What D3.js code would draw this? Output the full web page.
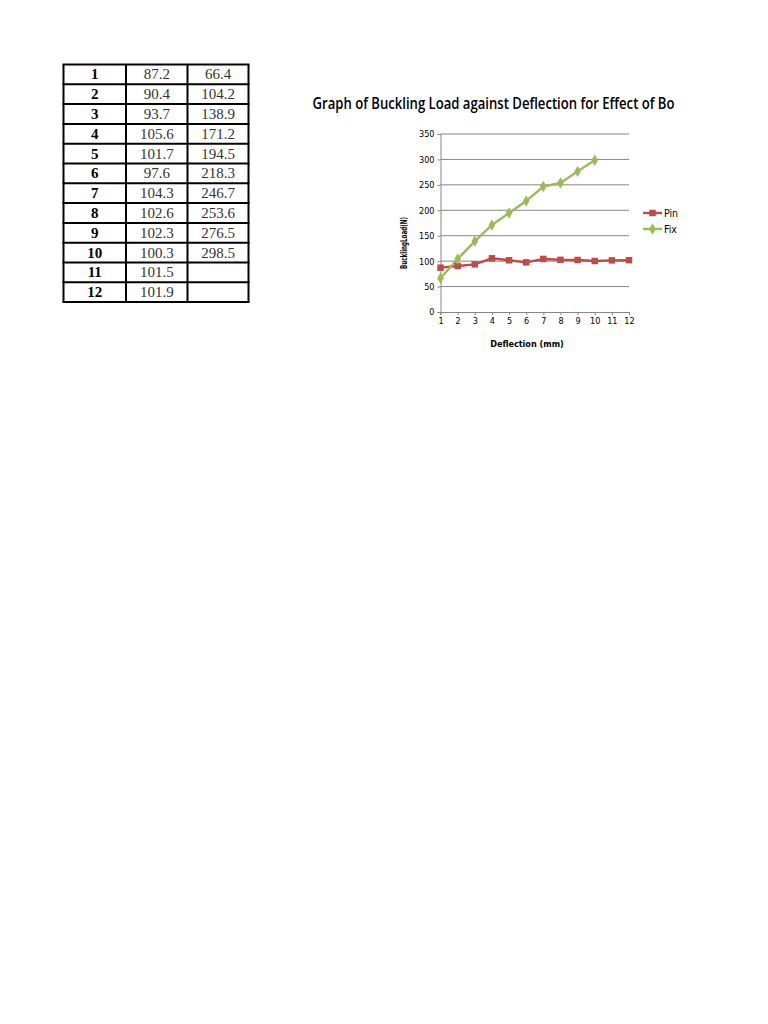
<!DOCTYPE html>
<html>
<head>
<meta charset="utf-8">
<script src="https://cdn.jsdelivr.net/npm/d3@7"></script>
<style>
  body { margin: 0; background: #fff; }
  svg { display: block; }
</style>
</head>
<body>
<div id="page"></div>
<script>

// data
var deflection = [1, 2, 3, 4, 5, 6, 7, 8, 9, 10, 11, 12];
var pinLoad = [87.2, 90.4, 93.7, 105.6, 101.7, 97.6, 104.3, 102.6, 102.3, 100.3, 101.5, 101.9];
var fixLoad = [66.4, 104.2, 138.9, 171.2, 194.5, 218.3, 246.7, 253.6, 276.5, 298.5];
var pinLabel = "Pin";
var fixLabel = "Fix";
var yTicks = [0, 50, 100, 150, 200, 250, 300, 350];
var titleText = "Graph of Buckling Load against Deflection for Effect of Bo";

var svg = d3.select("#page").append("svg")
    .attr("width", 768)
    .attr("height", 1024);

// ---- the table on the left
var colX = [63.5, 126, 187.5, 248.5];
var tableTop = 64.5, rowH = 19.8;

var table = svg.append("g").attr("class", "data-table");

var rows = deflection.map(function(d, i) {
    return [String(d),
            pinLoad[i] != null ? pinLoad[i].toFixed(1) : "",
            fixLoad[i] != null ? fixLoad[i].toFixed(1) : ""];
});

rows.forEach(function(r, i) {
    var y = tableTop + i * rowH;
    r.forEach(function(t, j) {
        table.append("text")
            .attr("x", (colX[j] + colX[j + 1]) / 2)
            .attr("y", y + rowH / 2 + 5)
            .attr("text-anchor", "middle")
            .style("font-family", "Liberation Serif, DejaVu Serif, serif")
            .style("font-size", "15px")
            .style("font-weight", j === 0 ? "bold" : "normal")
            .style("fill", j === 0 ? "#000" : "#333")
            .text(t);
    });
});

d3.range(13).forEach(function(i) {
    table.append("line")
        .attr("x1", colX[0] - 1).attr("x2", colX[3] + 1)
        .attr("y1", tableTop + i * rowH).attr("y2", tableTop + i * rowH)
        .attr("stroke", "#000").attr("stroke-width", 2);
});
colX.forEach(function(x) {
    table.append("line")
        .attr("x1", x).attr("x2", x)
        .attr("y1", tableTop).attr("y2", tableTop + 12 * rowH)
        .attr("stroke", "#000").attr("stroke-width", 2);
});

// ---- the chart
var chart = svg.append("g").attr("class", "chart");

var x = d3.scaleLinear().domain([1, 12]).range([440.5, 629]);
var y = d3.scaleLinear().domain([0, 350]).range([312, 134]);

var smallFont = "Liberation Sans Narrow, DejaVu Sans Condensed, Liberation Sans, sans-serif";

// title text is already cut short, as in the source picture
chart.append("text")
    .attr("x", 312.5)
    .attr("y", 109)
    .attr("textLength", 362)
    .attr("lengthAdjust", "spacingAndGlyphs")
    .style("font-family", "Open Sans, Liberation Sans, sans-serif")
    .style("font-size", "17px")
    .style("font-weight", "600")
    .style("fill", "#000")
    .text(titleText);

// gridlines
chart.append("g").selectAll("line")
    .data(yTicks.slice(1))
    .join("line")
    .attr("x1", x(1)).attr("x2", x(12))
    .attr("y1", function(d) { return y(d); })
    .attr("y2", function(d) { return y(d); })
    .attr("stroke", "#868686").attr("stroke-width", 1);

var yAxis = chart.append("g")
    .attr("transform", "translate(" + x(1) + ",0)")
    .call(d3.axisLeft(y).tickValues(yTicks).tickSize(3).tickPadding(3));
var xAxis = chart.append("g")
    .attr("transform", "translate(0," + y(0) + ")")
    .call(d3.axisBottom(x).tickValues(deflection).tickSize(3).tickPadding(3));

[yAxis, xAxis].forEach(function(a) {
    a.select(".domain").attr("stroke", "#868686");
    a.selectAll(".tick line").attr("stroke", "#868686");
    a.selectAll(".tick text")
        .style("font-family", smallFont)
        .style("font-size", "9px")
        .attr("fill", "#000");
});

chart.append("text")
    .attr("x", 527).attr("y", 347)
    .attr("text-anchor", "middle")
    .style("font-family", smallFont)
    .style("font-size", "9px")
    .style("font-weight", "bold")
    .text("Deflection (mm)");

chart.append("text")
    .attr("transform", "translate(407,243) rotate(-90)")
    .attr("text-anchor", "middle")
    .attr("textLength", 52)
    .attr("lengthAdjust", "spacingAndGlyphs")
    .style("font-family", smallFont)
    .style("font-size", "9px")
    .style("font-weight", "bold")
    .text("BucklingLoad(N)");

// series
var red = "#BE4B48", green = "#9BBB59";
var line = d3.line()
    .x(function(d) { return x(d[0]); })
    .y(function(d) { return y(d[1]); });

var pinPts = deflection.map(function(d, i) { return [d, pinLoad[i]]; });
var fixPts = fixLoad.map(function(v, i) { return [deflection[i], v]; });

chart.append("path").datum(pinPts)
    .attr("d", line).attr("fill", "none")
    .attr("stroke", red).attr("stroke-width", 2.4);
chart.append("path").datum(fixPts)
    .attr("d", line).attr("fill", "none")
    .attr("stroke", green).attr("stroke-width", 2.4);

var squareSym = d3.symbol().type(d3.symbolSquare).size(42);
var diamondSym = d3.symbol().type(d3.symbolDiamond).size(38);

chart.append("g").selectAll("path")
    .data(pinPts).join("path")
    .attr("transform", function(d) { return "translate(" + x(d[0]) + "," + y(d[1]) + ")"; })
    .attr("d", squareSym).attr("fill", red);
chart.append("g").selectAll("path")
    .data(fixPts).join("path")
    .attr("transform", function(d) { return "translate(" + x(d[0]) + "," + y(d[1]) + ")"; })
    .attr("d", diamondSym).attr("fill", green);

// legend
var legend = chart.append("g");
[[pinLabel, red, squareSym, 213], [fixLabel, green, diamondSym, 229]].forEach(function(l) {
    legend.append("line")
        .attr("x1", 643).attr("x2", 662)
        .attr("y1", l[3]).attr("y2", l[3])
        .attr("stroke", l[1]).attr("stroke-width", 2.4);
    legend.append("path")
        .attr("transform", "translate(652.5," + l[3] + ")")
        .attr("d", l[2]).attr("fill", l[1]);
    legend.append("text")
        .attr("x", 664).attr("y", l[3] + 3.5)
        .style("font-family", smallFont)
        .style("font-size", "10.5px")
        .text(l[0]);
});

</script>
</body>
</html>
